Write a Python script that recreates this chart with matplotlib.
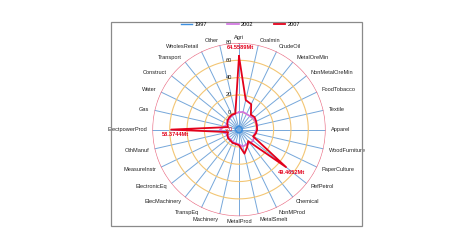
import numpy as np
import matplotlib
matplotlib.use("Agg")
import matplotlib.pyplot as plt
from matplotlib.patches import Rectangle

plt.rcParams['font.family'] = ['Liberation Sans', 'DejaVu Sans']

categories = ["Agri", "Coalmin", "CrudeOil", "MetalOreMin", "NonMetalOreMin", "FoodTobacco",
              "Textile", "Apparel", "WoodFurniture", "PaperCulture", "RefPetrol", "Chemical",
              "NonMProd", "MetalSmelt", "MetalProd", "Machinery", "TranspEq", "ElecMachinery",
              "ElectronicEq", "MeasureInstr", "OthManuf", "ElectpowerProd", "Gas", "Water",
              "Construct", "Transport", "WholesRetail", "Other"]

v1997 = [-16, -16.5, -16, -16.5, -16, -16.5, -16, -16.5, -16, -16.5, -16, -16.5, -16, -16.5,
         -16, -16.5, -16, -16.5, -16, -16.5, -16, -15.5, -16, -16.5, -16, -16.5, -16, -16.5]
v2002 = [0, 1, 0, 0, 1, 1, 2, 0, -1, -1, 1, 0, -1, 0,
         -3, -4, -4, -5, -5, -6, -3, 2, -3, -5, -4, -3, -2, -1]
v2007 = [64.5589, 15, 12.5, 2, 3, 2, 1, 1, 0, -2, 49.4652, -3, 2, 8.5,
         -2, -3, -3, -4, -4, -5, -7, 58.3744, -7, -5, -3, -2, -1, -1]

series_names = ["1997", "2002", "2007"]
series_colors = ["#3d8fe0", "#d070e0", "#e3001b"]

r_ticks = [-20, 0, 20, 40, 60, 80]

W, H = 474, 248
fig = plt.figure(figsize=(W / 100, H / 100), dpi=100)

# frame
fig.patches.append(Rectangle((111 / W, 1 - 226 / H), (362 - 111) / W, (226 - 22) / H,
                             transform=fig.transFigure, fill=False, edgecolor="#8a8a8a",
                             linewidth=0.9, zorder=0))

cx, cy, R = 239, 129.6, 86.6
ax = fig.add_axes([(cx - R) / W, (H - cy - R) / H, 2 * R / W, 2 * R / H], projection="polar")
ax.set_theta_zero_location("N")
ax.set_theta_direction(-1)
ax.set_ylim(r_ticks[0], r_ticks[-1])
ax.grid(False)
ax.set_xticks([])
ax.set_yticks([])
ax.spines["polar"].set_visible(False)
ax.patch.set_alpha(0)

n = len(categories)
theta = np.arange(n) * 2 * np.pi / n

# spokes
for th in theta:
    ax.plot([th, th], [r_ticks[0], r_ticks[-1]], color="#76a7da", lw=0.7, zorder=1)

# rings
tt = np.linspace(0, 2 * np.pi, 361)
for r in r_ticks[1:-1]:
    ax.plot(tt, np.full_like(tt, r), color="#f3c674", lw=0.8, zorder=1)
ax.plot(tt, np.full_like(tt, r_ticks[-1]), color="#ea6f86", lw=0.9, zorder=1)

FS = 4.1

# radial tick labels
for r in r_ticks:
    ax.annotate(str(r), xy=(0, r), xytext=(-10, 0), textcoords="offset pixels",
                ha="center", va="center", fontsize=FS,
                color="#e3001b" if r == r_ticks[0] else "#222222", zorder=6)

# category labels
for th, lab in zip(theta, categories):
    s = np.sin(th)
    ha = "left" if s > 0.01 else ("right" if s < -0.01 else "center")
    ax.text(th, r_ticks[-1] + 6.0, lab, ha=ha, va="center", fontsize=FS,
            color="#222222", clip_on=False)

lines = []
for vals, name, col, lw in zip([v1997, v2002, v2007], series_names, series_colors, [1.0, 1.2, 1.3]):
    th_c = np.append(theta, theta[0])
    v_c = np.append(vals, vals[0])
    ln, = ax.plot(th_c, v_c, color=col, lw=lw, label=name, zorder=3)
    lines.append(ln)

# value labels for peaks
peak_offsets = {0: (1, 9), 10: (5, -5), 21: (4, -5)}
for idx, (dx, dy) in peak_offsets.items():
    ax.annotate(f"{v2007[idx]:.4f}Mt", xy=(theta[idx], v2007[idx]), xytext=(dx, dy),
                textcoords="offset pixels", ha="center", va="center", fontsize=FS,
                color="#e3001b", fontweight="bold", zorder=6)

fig.legend(handles=lines, loc="center", bbox_to_anchor=(240.5 / W, 1 - 24 / H), ncol=3,
           frameon=False, fontsize=FS, handlelength=2.0, columnspacing=3.6,
           handletextpad=0.4)

fig.savefig("out.png", dpi=100)
